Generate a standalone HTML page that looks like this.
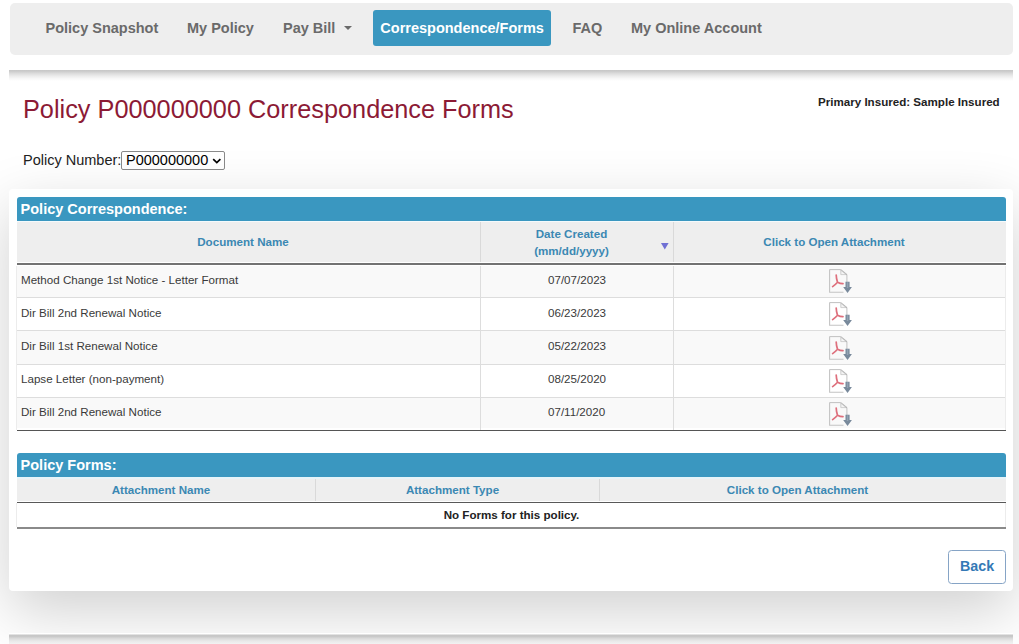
<!DOCTYPE html>
<html><head><meta charset="utf-8">
<style>
*{box-sizing:border-box}
html,body{margin:0;padding:0}
body{width:1019px;height:644px;overflow:hidden;position:relative;background:#fff;font-family:"Liberation Sans",sans-serif;color:#333}
div,span{position:absolute;white-space:nowrap}
.nav{left:9.5px;top:2.8px;width:1003.7px;height:52.6px;background:#eee;border-radius:5px}
.nav span{top:-1.3px;height:52px;line-height:52px;font-weight:bold;font-size:14.5px;color:#6a6a6a}
.nav span.act{top:7px;height:36px;line-height:36.4px;background:#3a97c0;color:#fff;border-radius:3px;padding:0 7px}
.caret{left:61px;top:22px;width:0;height:0;border-left:4px solid transparent;border-right:4px solid transparent;border-top:4px solid #6a6a6a}
.sep{left:9px;width:1004px;height:14px;background:linear-gradient(#c6c6c6,#cdcdcd 1.5px,#dcdcdc 3.5px,#ebebeb 6px,#f7f7f7 8.5px,rgba(255,255,255,0) 11px)}
.sep2{z-index:2;left:9px;width:1004px;height:11px;background:linear-gradient(#fff,#fff 1px,#c6c6c6 2px,#c9c9c9 3.5px,#dadada 5.5px,#e9e9e9 8px,#f2f2f2 11px)}
.title{left:23px;top:93.8px;font-size:25.3px;color:#8c1a35;line-height:30px}
.ins{left:818px;top:95px;font-size:11.6px;font-weight:bold;color:#222}
.pn{left:23px;top:151px;font-size:14.5px;color:#222;line-height:18px}
.sel{left:121px;top:151px;width:104px;height:18.5px;border:1px solid #8a8a8a;border-radius:2px;background:#fff;font-size:14.5px;color:#000;line-height:16.5px;padding-left:4px}
.sel svg{position:absolute;left:90px;top:5.5px}
.card{left:9px;top:189px;width:1004px;height:402px;background:#fff;border-radius:4px;box-shadow:0 20px 60px rgba(0,0,0,.19)}
.bar{left:17px;width:989px;height:24px;background:#3a97c0;border-radius:3px 3px 0 0;color:#fff;font-weight:bold;font-size:14.5px;line-height:24.5px;padding-left:3.6px}
.hdr{left:17px;width:989px;background:#eee;border-top:1px solid #f4fafc}
.h{font-size:11.6px;font-weight:bold;color:#3b88b3;line-height:17px;text-align:center}
.vl{width:1px;background:#d9d9d9}
.hl{left:17px;width:989px;height:1px}
.row{left:17px;width:989px;height:33px;font-size:11.6px;color:#333}
.row.g{background:#f9f9f9}
.t{font-size:11.6px;color:#3a3a3a;line-height:14px}
</style></head><body>
<svg width="0" height="0" style="position:absolute"><defs><symbol id="pdf" viewBox="0 0 24 25">
<path d="M0.6 0.6H11.6M17.9 5.8V13" fill="none" stroke="#c0c0c0" stroke-width="1"/>
<path d="M0.6 0.6V23.2H14.5" fill="none" stroke="#c4c4c4" stroke-width="1.1"/>
<path d="M11.6 0.6L17.9 5.8" fill="none" stroke="#b0b0b0" stroke-width="1.2"/>
<path d="M11.8 1.2V5.6H17.2Z" fill="#f4f4f4" stroke="#c4c4c4" stroke-width="0.8"/>
<path d="M8.5 13.2Q7.3 9.5 7.2 6M8.5 13.2Q6.2 15.8 3.6 17.6M8.5 13.2Q11.4 14.7 14 14.6" fill="none" stroke="#de6f7c" stroke-width="1.7" stroke-linecap="round"/>
<path d="M16.5 12.7H20.6V18.1H22.9L18.55 23.9L14.2 18.1H16.5Z" fill="#78899b"/>
<path d="M17.8 13.2H19.3V19H17.8Z" fill="#93a3b3"/>
</symbol></defs></svg>
<div class="nav">
  <span style="left:36px">Policy Snapshot</span>
  <span style="left:177.5px">My Policy</span>
  <span style="left:273.5px">Pay Bill<div class="caret" style="top:24.5px"></div></span>
  <span class="act" style="left:363.8px">Correspondence/Forms</span>
  <span style="left:563px">FAQ</span>
  <span style="left:621.5px">My Online Account</span>
</div>
<div class="sep" style="top:70px"></div>
<div class="title">Policy P000000000 Correspondence Forms</div>
<div class="ins">Primary Insured: Sample Insured</div>
<div class="pn">Policy Number:</div>
<div class="sel">P000000000<svg width="10" height="6" viewBox="0 0 10 6"><path d="M1.2 1.2L4.8 4.6L8.4 1.2" fill="none" stroke="#000" stroke-width="1.7"/></svg></div>
<div class="sep2" style="top:633px"></div>
<div class="card"></div>

<!-- Table 1 -->
<div class="bar" style="top:196.6px">Policy Correspondence:</div>
<div class="hdr" style="top:221px;height:41px"></div>
<div class="vl" style="left:480px;top:222px;height:40px"></div>
<div class="vl" style="left:673px;top:222px;height:40px"></div>
<div class="h" style="left:17px;width:452px;top:232.8px">Document Name</div>
<div class="h" style="left:481px;width:181px;top:225px">Date Created<br>(mm/dd/yyyy)</div>
<svg style="position:absolute;left:661px;top:243px" width="8" height="7" viewBox="0 0 8 7"><path d="M0 0H7.6L3.8 6.6Z" fill="#7070d4"/></svg>
<div class="h" style="left:674px;width:320px;top:232.8px">Click to Open Attachment</div>
<div class="hl" style="top:263.2px;height:1.8px;background:#727272"></div>

<div class="row g" style="top:266px;height:31px"></div>
<div class="hl" style="top:297px;background:#ddd"></div>
<div class="row" style="top:298px;height:32px"></div>
<div class="hl" style="top:330px;background:#ddd"></div>
<div class="row g" style="top:331px;height:33px"></div>
<div class="hl" style="top:364px;background:#ddd"></div>
<div class="row" style="top:365px;height:32px"></div>
<div class="hl" style="top:397px;background:#ddd"></div>
<div class="row g" style="top:398px;height:30px"></div>
<div class="hl" style="top:430px;height:1px;background:#555"></div>
<div class="vl" style="left:16px;top:266px;height:164px;background:#ececec"></div>
<div class="vl" style="left:480px;top:266px;height:164px;background:#ddd"></div>
<div class="vl" style="left:673px;top:266px;height:164px;background:#ddd"></div>
<div class="vl" style="left:1005px;top:266px;height:164px;background:#ececec"></div>

<div class="t" style="left:21px;top:273px">Method Change 1st Notice - Letter Format</div>
<div class="t" style="left:21px;top:306px">Dir Bill 2nd Renewal Notice</div>
<div class="t" style="left:21px;top:339px">Dir Bill 1st Renewal Notice</div>
<div class="t" style="left:21px;top:372px">Lapse Letter (non-payment)</div>
<div class="t" style="left:21px;top:405px">Dir Bill 2nd Renewal Notice</div>
<div class="t" style="left:548px;top:273px">07/07/2023</div>
<div class="t" style="left:548px;top:306px">06/23/2023</div>
<div class="t" style="left:548px;top:339px">05/22/2023</div>
<div class="t" style="left:548px;top:372px">08/25/2020</div>
<div class="t" style="left:548px;top:405px">07/11/2020</div>

<svg style="position:absolute;left:829px;top:269px" width="24" height="25"><use href="#pdf"/></svg>
<svg style="position:absolute;left:829px;top:302px" width="24" height="25"><use href="#pdf"/></svg>
<svg style="position:absolute;left:829px;top:336px" width="24" height="25"><use href="#pdf"/></svg>
<svg style="position:absolute;left:829px;top:369px" width="24" height="25"><use href="#pdf"/></svg>
<svg style="position:absolute;left:829px;top:402px" width="24" height="25"><use href="#pdf"/></svg>
<!-- Table 2 -->
<div class="bar" style="top:452.6px">Policy Forms:</div>
<div class="hdr" style="top:476.6px;height:24.4px;border-top:2px solid #e6f4f9"></div>
<div class="vl" style="left:315px;top:479px;height:22px"></div>
<div class="vl" style="left:599px;top:479px;height:22px"></div>
<div class="h" style="left:17px;width:288px;top:480.5px">Attachment Name</div>
<div class="h" style="left:316px;width:273px;top:480.5px">Attachment Type</div>
<div class="h" style="left:600px;width:395px;top:480.5px">Click to Open Attachment</div>
<div class="hl" style="top:502px;height:1.3px;background:#585858"></div>
<div class="t" style="left:17px;width:989px;text-align:center;top:508px;font-weight:bold;color:#222">No Forms for this policy.</div>
<div class="hl" style="top:527px;height:2px;background:#8a8a8a"></div>
<div class="vl" style="left:16px;top:503px;height:24px;background:#ececec"></div>
<div class="vl" style="left:1005px;top:503px;height:24px;background:#ececec"></div>

<div style="left:948px;top:550px;width:58px;height:34px;border:1px solid #86a4c6;border-radius:3.5px;color:#3479b6;font-weight:bold;font-size:14.3px;text-align:center;line-height:31.5px">Back</div>
</body></html>
